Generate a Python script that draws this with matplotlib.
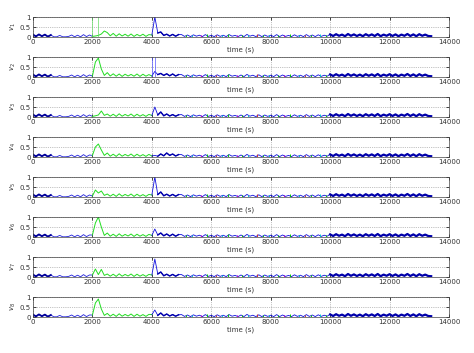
import numpy as np
import matplotlib
matplotlib.use("Agg")
import matplotlib.pyplot as plt

# time axis (s), one sample every 100 s
time_s = np.arange(0, 13500, 100)

# values in percent
lead_noise = [12, 3, 13, 4, 12, 2, 10, 1, 1, 8, 1, 1, 3, 10, 1, 9, 1, 12, 2, 10]
mid_noise = [12, 3, 10, 2, 11, 4, 9, 2, 12, 3, 8, 2, 11, 3, 9, 2, 12, 4, 8, 2,
             10, 2, 13, 4, 9, 2, 11, 2, 10, 3, 9, 2, 12, 2, 10, 3, 8, 2, 11, 3,
             9, 2, 12, 3, 10, 2, 11, 3, 9, 4]
tail_noise = [13, 5, 14, 6, 12, 4, 15, 6, 13, 5, 12, 4, 14, 6, 13, 5, 15, 4,
              12, 6, 14, 5, 13, 4, 12, 6, 15, 5, 13, 4, 14, 6, 12, 5, 4]

# 2000-3900 s (green part)
green_parts = [
    [3, 5, 8, 15, 30, 22, 6, 18, 4, 16, 5, 14, 4, 15, 3, 13, 5, 14, 3, 12],
    [5, 75, 95, 40, 8, 22, 5, 16, 4, 15, 3, 14, 5, 13, 4, 15, 3, 14, 4, 12],
    [3, 6, 10, 30, 8, 15, 4, 14, 3, 16, 4, 13, 5, 15, 3, 14, 4, 12, 3, 13],
    [8, 50, 65, 35, 8, 20, 4, 14, 3, 16, 4, 13, 5, 15, 3, 14, 4, 12, 3, 13],
    [5, 35, 20, 30, 8, 15, 4, 14, 3, 16, 4, 13, 5, 15, 3, 14, 4, 12, 3, 13],
    [10, 70, 100, 50, 8, 20, 4, 14, 3, 16, 4, 13, 5, 15, 3, 14, 4, 12, 3, 13],
    [10, 40, 12, 38, 8, 15, 4, 14, 3, 16, 4, 13, 5, 15, 3, 14, 4, 12, 3, 13],
    [10, 70, 90, 40, 8, 18, 4, 14, 3, 16, 4, 13, 5, 15, 3, 14, 4, 12, 3, 13],
]

# 4000-4900 s (blue response)
blue_parts = [
    [10, 100, 20, 25, 8, 14, 5, 13, 4, 12],
    [5, 28, 12, 18, 8, 16, 6, 15, 5, 12],
    [8, 50, 10, 25, 6, 15, 5, 12, 4, 11],
    [5, 8, 4, 15, 6, 20, 8, 15, 5, 12],
    [10, 100, 12, 25, 6, 14, 5, 13, 4, 12],
    [8, 40, 10, 20, 6, 15, 5, 14, 4, 12],
    [10, 90, 15, 25, 6, 14, 5, 13, 4, 12],
    [12, 35, 8, 20, 6, 15, 5, 12, 4, 11],
]

# thin full-height markers (time, colour) per panel
markers = [
    [(2000, "#66dd66"), (2200, "#66dd66")],
    [(4000, "#5555ff"), (4100, "#5555ff")],
    [], [], [], [], [], [],
]

# small coloured spikes from the other channels (5000-10000 s)
mix_times = [5150, 5350, 5650, 5850, 6150, 6350, 6550, 6850, 7050, 7250, 7550, 7750,
             7950, 8250, 8450, 8650, 8950, 9150, 9350, 9650, 9850]
mix_heights = [10, 12, 8, 13, 9, 11, 14, 8, 12, 10, 13, 9, 11, 12, 8, 14, 10, 12, 9, 13, 11]
mix_colors = ["#00cc00", "#00cccc", "#cc00cc", "#00cc00", "#cc3333", "#00cccc", "#00cc00",
              "#cc00cc", "#00cc00", "#00cccc", "#cc3333", "#00cc00", "#00cccc", "#00cc00",
              "#cc00cc", "#00cc00", "#00cccc", "#cc3333", "#00cc00", "#00cccc", "#00cc00"]

labels = [r"$v_{%d}$" % (k + 1) for k in range(8)]
xticks = [0, 2000, 4000, 6000, 8000, 10000, 12000, 14000]

fig = plt.figure(figsize=(4.74, 3.53), dpi=100)
W, H = 474.0, 353.0

for k in range(8):
    top = 17 + 40 * k
    ax = fig.add_axes([33 / W, 1 - (top + 20) / H, 416 / W, 20 / H])
    vals = np.array(lead_noise + green_parts[k] + blue_parts[k] + mid_noise + tail_noise) / 100.0

    ax.plot(time_s[:21], vals[:21], color="#2222dd", lw=0.6)
    ax.plot(time_s[:7], vals[:7], color="#000099", lw=1.3)
    ax.plot(time_s[20:41], vals[20:41], color="#22dd22", lw=0.7)
    ax.plot(time_s[40:], vals[40:], color="#1111dd", lw=0.6)
    ax.plot(time_s[42:50], vals[42:50], color="#0000aa", lw=1.0)
    ax.plot(time_s[100:], vals[100:], color="#0000aa", lw=1.6)
    ax.vlines(mix_times, 0, np.array(mix_heights) / 100.0, colors=mix_colors, lw=0.7)
    for t, c in markers[k]:
        ax.vlines(t, 0, 1, colors=c, lw=0.5)

    ax.set_xlim(0, 14000)
    ax.set_ylim(0, 1)
    ax.set_xticks(xticks)
    ax.set_yticks([0, 0.5, 1])
    ax.set_yticklabels(["0", "0.5", "1"])
    ax.grid(True, linestyle=":", color="#888888", lw=0.5)
    ax.tick_params(direction="in", length=2, width=0.5, top=True, right=True,
                   labelsize=5, pad=1.5, labelcolor="#333333")
    for s in ax.spines.values():
        s.set_linewidth(0.5)
        s.set_color("#444444")
    ax.set_xlabel("time (s)", fontsize=5, labelpad=1, color="#333333")
    ax.set_ylabel(labels[k], fontsize=5, labelpad=1, color="#333333")

fig.savefig("out.png", dpi=100)
